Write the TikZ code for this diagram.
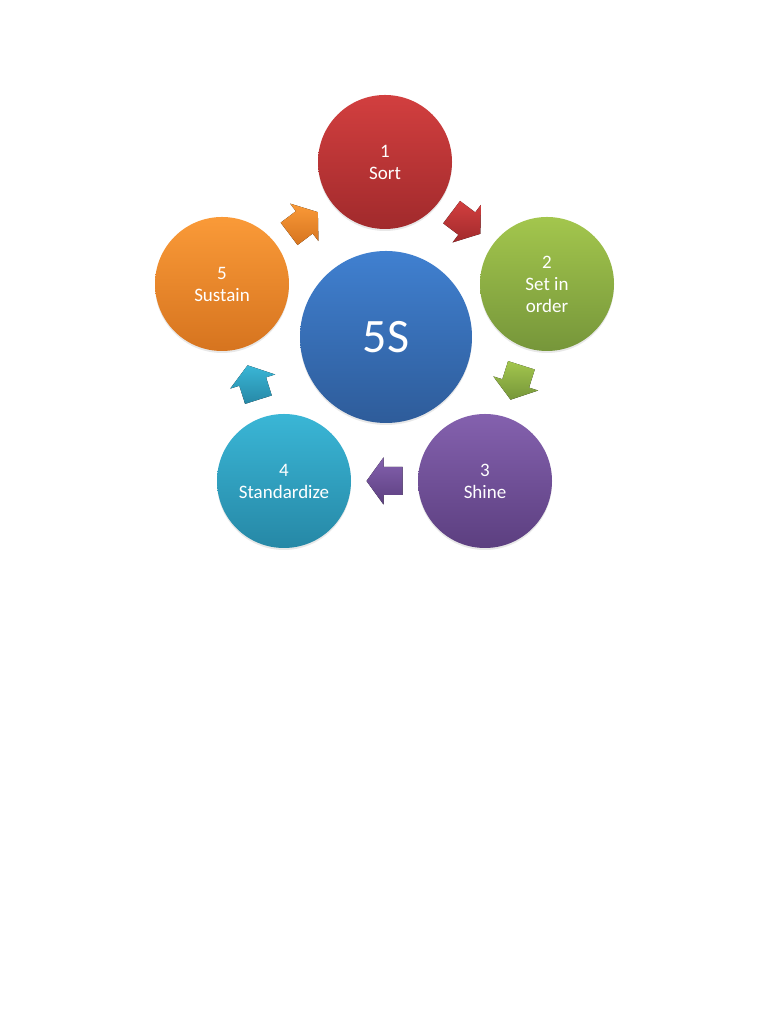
\documentclass[tikz,border=0pt]{standalone}
\usepackage{fontspec}
\setmainfont{Carlito}
\usetikzlibrary{calc,shadows}
\definecolor{redT}{HTML}{D23F3F}\definecolor{redB}{HTML}{A12A2C}
\definecolor{grnT}{HTML}{A3C64D}\definecolor{grnB}{HTML}{76963A}
\definecolor{purT}{HTML}{8461AE}\definecolor{purB}{HTML}{5C3F80}
\definecolor{tealT}{HTML}{3AB6D6}\definecolor{tealB}{HTML}{2688A6}
\definecolor{orgT}{HTML}{FA9A38}\definecolor{orgB}{HTML}{D6741F}
\definecolor{bluT}{HTML}{4080D0}\definecolor{bluB}{HTML}{2E5C9A}
\tikzset{
  stepcircle/.style 2 args={circle, minimum size=134pt, inner sep=0pt,
    top color=#1, bottom color=#2, draw=none, text=white, align=center,
    font=\fontsize{19}{22}\selectfont,
    drop shadow={opacity=0.18, shadow xshift=0pt, shadow yshift=-2pt}},
  hubcircle/.style={circle, minimum size=172pt, inner sep=0pt,
    top color=bluT, bottom color=bluB, draw=none, text=white,
    font=\fontsize{48}{52}\selectfont,
    drop shadow={opacity=0.18, shadow xshift=0pt, shadow yshift=-2pt}},
  blockarrow/.style 2 args={top color=#1, bottom color=#2, draw=none}
}
\newcommand{\blockarrowpath}{(-18,-14) -- (1,-14) -- (1,-23.5) -- (18,0) -- (1,23.5) -- (1,14) -- (-18,14) -- cycle}
\begin{document}
\begin{tikzpicture}[x=1pt,y=1pt]
\useasboundingbox[fill=white] (0,0) rectangle (768,1024);
% nodes
\node[hubcircle] (hub) at (386,687) {5S};
\node[stepcircle={redT}{redB}] (sort) at (385,862) {1\\Sort};
\node[stepcircle={grnT}{grnB}] (set) at (547,740) {2\\Set in\\order};
\node[stepcircle={purT}{purB}] (shine) at (485,543) {3\\Shine};
\node[stepcircle={tealT}{tealB}] (std) at (284,543) {4\\Standardize};
\node[stepcircle={orgT}{orgB}] (sus) at (222,740) {5\\Sustain};
% block arrows between circles
\begin{scope}[shift={($(sort)!0.5!(set)$)}, rotate=-37]
  \fill[blockarrow={redT}{redB}] \blockarrowpath;
\end{scope}
\begin{scope}[shift={($(set)!0.5!(shine)$)}, rotate=-107.5]
  \fill[blockarrow={grnT}{grnB}] \blockarrowpath;
\end{scope}
\begin{scope}[shift={($(shine)!0.5!(std)$)}, rotate=180]
  \fill[blockarrow={purT}{purB}] \blockarrowpath;
\end{scope}
\begin{scope}[shift={($(std)!0.5!(sus)$)}, rotate=107.5]
  \fill[blockarrow={tealT}{tealB}] \blockarrowpath;
\end{scope}
\begin{scope}[shift={($(sus)!0.5!(sort)$)}, rotate=37]
  \fill[blockarrow={orgT}{orgB}] \blockarrowpath;
\end{scope}
\end{tikzpicture}
\end{document}
